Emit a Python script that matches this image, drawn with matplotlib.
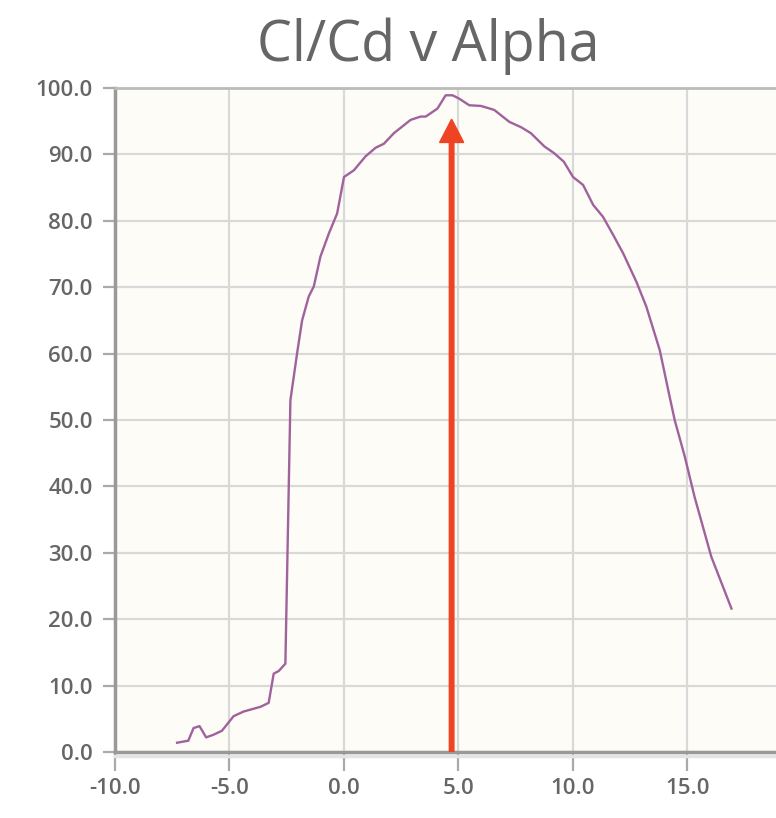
import matplotlib
matplotlib.use('Agg')
import matplotlib.pyplot as plt

# Lift/drag ratio against angle of attack
alpha = [-7.29, -6.8, -6.57, -6.31, -6.02, -5.7, -5.33, -4.82, -4.38, -3.65,
         -3.29, -3.07, -2.85, -2.56, -2.34, -2.05, -1.83, -1.54, -1.32, -1.03,
         -0.66, -0.3, 0.0, 0.43, 0.94, 1.38, 1.74, 2.18, 2.91, 3.35,
         3.57, 4.08, 4.44, 4.74, 5.03, 5.47, 5.98, 6.56, 7.22, 7.73,
         8.16, 8.75, 9.17, 9.6, 10.0, 10.44, 10.88, 11.31, 11.75, 12.19,
         12.77, 13.2, 13.79, 14.22, 14.44, 14.88, 15.31, 16.04, 16.92]
cl_cd = [1.4, 1.7, 3.6, 3.9, 2.2, 2.6, 3.2, 5.4, 6.1, 6.8,
         7.4, 11.8, 12.2, 13.3, 53.0, 60.0, 65.0, 68.6, 70.1, 74.6,
         78.1, 81.1, 86.6, 87.6, 89.7, 91.0, 91.6, 93.2, 95.2, 95.7,
         95.7, 96.9, 98.9, 98.9, 98.4, 97.4, 97.3, 96.7, 94.9, 94.1,
         93.2, 91.2, 90.2, 88.9, 86.6, 85.4, 82.4, 80.6, 77.9, 75.1,
         70.8, 67.1, 60.5, 53.5, 50.0, 44.5, 38.4, 29.4, 21.6]

# best Cl/Cd marker
arrow_x = 4.7
arrow_top = 95.3

xticks = [-10, -5, 0, 5, 10, 15, 20]
yticks = [0, 10, 20, 30, 40, 50, 60, 70, 80, 90, 100]

GREY = '#666666'

fig = plt.figure(figsize=(7.76, 8.18), dpi=100)
ax = fig.add_axes([115 / 776, 66 / 818, 687 / 776, 664 / 818])
ax.set_facecolor('#fdfcf6')

ax.plot(alpha, cl_cd, '-', color='#a0629c', linewidth=1.7, zorder=3)

ax.arrow(arrow_x, 0, 0, arrow_top, width=0.2, head_width=1.05,
         head_length=3.5, length_includes_head=True,
         color='#ee4423', zorder=4)

ax.set_xlim(-10, 20)
ax.set_ylim(0, 100)
ax.set_xticks(xticks)
ax.set_yticks(yticks)
ax.set_xticklabels(['%.1f' % v for v in xticks])
ax.set_yticklabels(['%.1f' % v for v in yticks])

ax.grid(True, color='#d9d9d9', linewidth=1.6, zorder=0)
ax.set_axisbelow(True)

for side in ['left', 'bottom']:
    ax.spines[side].set_color('#999999')
    ax.spines[side].set_linewidth(2.5)
for side in ['top', 'right']:
    ax.spines[side].set_color('#bbbbbb')
    ax.spines[side].set_linewidth(2)

# soft shadow under the x axis line
ax.axhline(-0.6, color='#e4e4e4', linewidth=2.5, clip_on=False, zorder=1)

ax.tick_params(axis='both', colors='#aaaaaa', width=1.6, labelcolor=GREY,
               labelsize=16)
ax.tick_params(axis='x', length=14, pad=5)
ax.tick_params(axis='y', length=9, pad=7)
for lab in ax.get_xticklabels() + ax.get_yticklabels():
    lab.set_family('Open Sans')
    lab.set_fontweight('semibold')

fig.text(428 / 776, 1 - 46 / 818, 'Cl/Cd v Alpha', ha='center', va='center',
         fontsize=40, color=GREY, family='Open Sans')

fig.savefig('out.png', dpi=100)
